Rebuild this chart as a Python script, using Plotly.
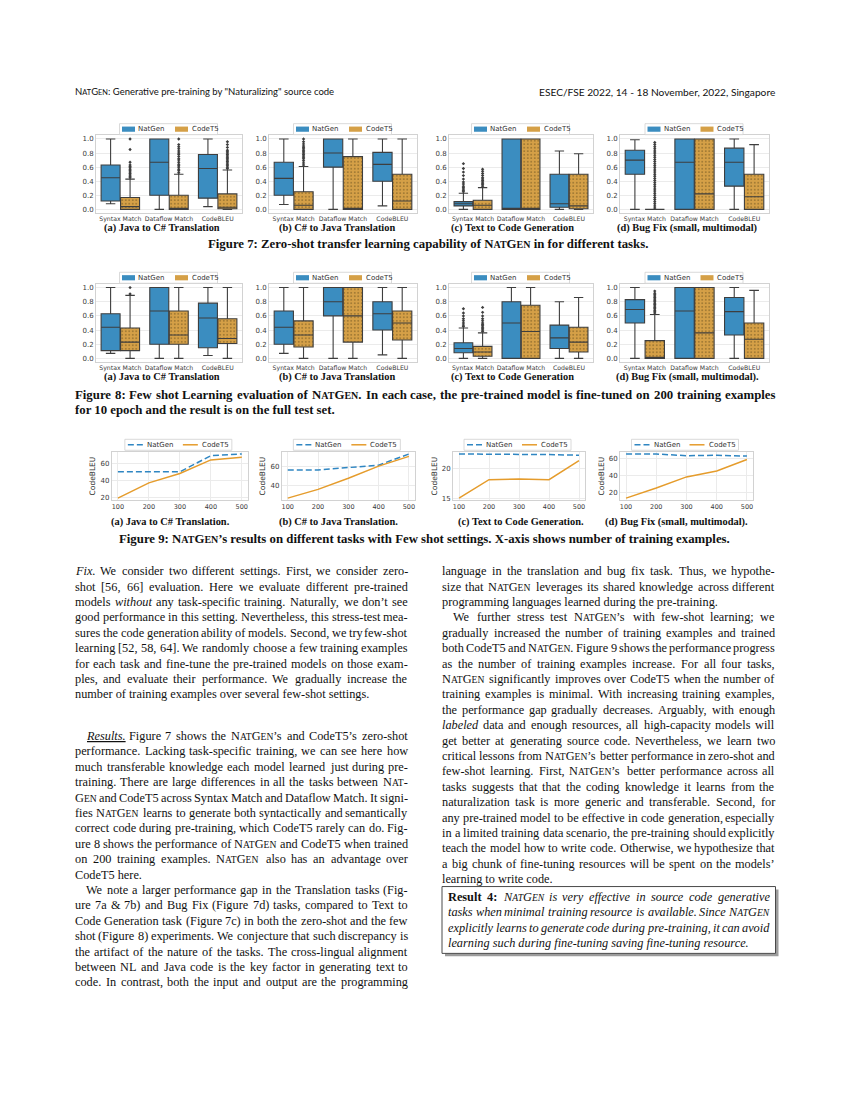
import re
import plotly.graph_objects as go

# ---------------- data ----------------
METRICS = ["Syntax Match", "Dataflow Match", "CodeBLEU"]
METRIC_POS = [0, 1, 2]
BOX_TICKS = [0.0, 0.2, 0.4, 0.6, 0.8, 1.0]

# Box statistics per metric: [lower whisker, q1, median, q3, upper whisker]
# Figure 7: zero-shot
zs_java_cs_natgen = [[0.08, 0.12, 0.45, 0.63, 1.00], [0.00, 0.20, 0.67, 1.00, 1.00], [0.04, 0.16, 0.58, 0.78, 1.00]]
zs_java_cs_codet5 = [[0.00, 0.00, 0.04, 0.17, 0.43], [0.00, 0.00, 0.00, 0.20, 0.50], [0.00, 0.01, 0.03, 0.22, 0.56]]
zs_java_cs_natgen_out = [[], [], []]
zs_java_cs_codet5_out = [[0.45, 0.47, 0.49, 0.51, 0.53, 0.55, 0.57, 0.59, 0.61, 0.63, 0.67, 0.85, 1.00],
                         [0.52, 0.55, 0.57, 0.60, 0.62, 0.64, 0.67, 0.70, 0.72, 0.75, 0.78, 0.80, 0.83, 0.86, 0.89, 0.92, 1.00],
                         [0.58, 0.60, 0.62, 0.64, 0.66, 0.68, 0.70, 0.72, 0.74, 0.76, 0.78, 0.80, 0.82, 0.84, 0.88, 0.92, 0.96]]

zs_cs_java_natgen = [[0.07, 0.20, 0.44, 0.67, 1.00], [0.00, 0.60, 0.80, 1.00, 1.00], [0.05, 0.40, 0.64, 0.81, 1.00]]
zs_cs_java_codet5 = [[0.00, 0.00, 0.06, 0.25, 0.61], [0.00, 0.00, 0.00, 0.75, 1.00], [0.00, 0.00, 0.12, 0.50, 1.00]]
zs_cs_java_natgen_out = [[], [], []]
zs_cs_java_codet5_out = [[0.63, 0.66, 0.69, 0.72, 0.74, 0.76, 0.78, 0.80, 0.82, 0.84, 0.86, 0.88, 0.90, 0.93, 0.96, 1.00], [], []]

zs_text_code_natgen = [[0.00, 0.05, 0.08, 0.11, 0.23], [0.00, 0.00, 0.00, 1.00, 1.00], [0.00, 0.03, 0.08, 0.50, 0.83]]
zs_text_code_codet5 = [[0.00, 0.00, 0.06, 0.13, 0.31], [0.00, 0.00, 0.00, 1.00, 1.00], [0.00, 0.01, 0.05, 0.50, 0.79]]
zs_text_code_natgen_out = [[0.25, 0.27, 0.29, 0.31, 0.33, 0.36, 0.39, 0.43, 0.48, 0.53, 0.58, 0.65], [], []]
zs_text_code_codet5_out = [[0.33, 0.35, 0.37, 0.39, 0.41, 0.43, 0.45, 0.48, 0.51, 0.54, 0.57], [], []]

zs_bugfix_natgen = [[0.00, 0.50, 0.70, 0.84, 0.99], [0.00, 0.00, 0.67, 1.00, 1.00], [0.00, 0.33, 0.67, 0.87, 1.00]]
zs_bugfix_codet5 = [[0.00, 0.00, 0.00, 0.00, 0.00], [0.00, 0.00, 0.22, 1.00, 1.00], [0.00, 0.00, 0.18, 0.50, 0.92]]
zs_bugfix_natgen_out = [[], [], []]
zs_bugfix_codet5_out = [[0.02, 0.05, 0.08, 0.11, 0.14, 0.17, 0.20, 0.23, 0.26, 0.29, 0.32, 0.35, 0.38, 0.41, 0.44,
                         0.47, 0.50, 0.53, 0.56, 0.59, 0.62, 0.65, 0.68, 0.71, 0.74, 0.77, 0.80, 0.83, 0.86, 0.89,
                         0.92, 0.95], [], []]

# Figure 8: few-shot (200 examples)
fs_java_cs_natgen = [[0.07, 0.11, 0.44, 0.63, 1.00], [0.00, 0.20, 0.67, 1.00, 1.00], [0.04, 0.15, 0.57, 0.78, 1.00]]
fs_java_cs_codet5 = [[0.00, 0.11, 0.23, 0.43, 0.89], [0.00, 0.20, 0.33, 0.67, 1.00], [0.00, 0.21, 0.28, 0.56, 1.00]]
fs_java_cs_natgen_out = [[], [], []]
fs_java_cs_codet5_out = [[0.91, 1.00], [], []]

fs_cs_java_natgen = [[0.07, 0.20, 0.44, 0.67, 1.00], [0.00, 0.60, 0.80, 1.00, 1.00], [0.05, 0.40, 0.63, 0.80, 1.00]]
fs_cs_java_codet5 = [[0.00, 0.16, 0.33, 0.53, 1.00], [0.00, 0.23, 0.60, 1.00, 1.00], [0.00, 0.26, 0.50, 0.67, 1.00]]
fs_cs_java_natgen_out = [[], [], []]
fs_cs_java_codet5_out = [[], [], []]

fs_text_code_natgen = [[0.00, 0.08, 0.14, 0.22, 0.43], [0.00, 0.00, 0.50, 0.80, 1.00], [0.00, 0.14, 0.29, 0.47, 0.80]]
fs_text_code_codet5 = [[0.00, 0.03, 0.09, 0.17, 0.36], [0.00, 0.00, 0.38, 0.75, 1.00], [0.00, 0.09, 0.23, 0.44, 0.86]]
fs_text_code_natgen_out = [[0.45, 0.47, 0.50, 0.53, 0.56, 0.60, 0.64, 0.70], [], []]
fs_text_code_codet5_out = [[0.38, 0.40, 0.42, 0.44, 0.46, 0.48, 0.50, 0.53, 0.56, 0.60, 0.65, 0.72], [], []]

fs_bugfix_natgen = [[0.00, 0.50, 0.69, 0.83, 1.00], [0.00, 0.00, 0.67, 1.00, 1.00], [0.00, 0.33, 0.66, 0.86, 1.00]]
fs_bugfix_codet5 = [[0.00, 0.00, 0.00, 0.25, 0.62], [0.00, 0.00, 0.36, 1.00, 1.00], [0.00, 0.00, 0.27, 0.50, 0.96]]
fs_bugfix_natgen_out = [[], [], []]
fs_bugfix_codet5_out = [[0.64, 0.66, 0.68, 0.70, 0.72, 0.74, 0.76, 0.78, 0.80, 0.82, 0.84, 0.86, 0.88, 0.90, 0.92, 0.95], [], []]

# Figure 9: CodeBLEU vs number of training examples
TRAIN_SIZES = [100, 200, 300, 400, 500]
TRAIN_TICKS = [100, 200, 300, 400, 500]
curve_java_cs_natgen = [50, 50, 50, 69, 71]
curve_java_cs_codet5 = [19, 37, 48, 64, 67]
curve_cs_java_natgen = [56.5, 56.5, 59, 61.5, 73]
curve_cs_java_codet5 = [27.5, 36.5, 48, 60.5, 70.5]
curve_text_code_natgen = [22.3, 22.3, 22.3, 22.2, 22.1]
curve_text_code_codet5 = [15.1, 18.1, 18.2, 18.1, 21.2]
curve_bugfix_natgen = [65, 65, 63, 63.5, 62.5]
curve_bugfix_codet5 = [13, 25, 38, 45, 58.5]
curve_yticks = [[20, 40, 60], [40, 60], [15, 20], [20, 40, 60]]

# ---------------- page geometry / styling ----------------
OFF = 8                 # default body margin of the html page
FW, FH = 850 - 2 * OFF, 1100 - 2 * OFF

NATGEN_FILL = "#3b8dc0"
CODET5_FILL = "#d5a047"
CODET5_DOT = "#94702f"
EDGE = "#3e3e3e"
NATGEN_LINE = "#2f86c2"
CODET5_LINE = "#e59c2c"
FRAME = "#d2d2d2"
GRID = "#ebebeb"
TICK_FONT = dict(family="DejaVu Sans", size=7, color="#3a3a3a")
CAT_FONT = dict(family="DejaVu Sans", size=6.2, color="#3a3a3a")
SERIF = "Liberation Serif"
SANS_HDR = "Lato"

BOX_X = [(96, 242), (269, 417), (449, 593), (620, 769)]
FIG7_Y = (135.8, 213.5)
FIG8_Y = (284.8, 362.9)
LINE_X = [(111.7, 248), (281.7, 415), (453, 585), (620, 753)]
FIG9_Y = (453, 501.7)


def px(x):
    return (x - OFF) / FW


def py(y):
    return 1 - (y - OFF) / FH


fig = go.Figure()
layout = {}
annotations = []
shapes = []


def add_box_panel(i, natgen, codet5, natgen_out, codet5_out, xdom, ydom):
    s = "" if i == 1 else str(i)
    for stats, outs, offset, is_t5 in ((natgen, natgen_out, -0.2, False), (codet5, codet5_out, 0.2, True)):
        xs = [p + offset for p in METRIC_POS]
        low = [r[0] for r in stats]
        q1 = [r[1] for r in stats]
        med = [r[2] for r in stats]
        q3 = [r[3] for r in stats]
        high = [r[4] for r in stats]
        if is_t5:
            marker = dict(color=CODET5_FILL, line=dict(width=0),
                          pattern=dict(shape=".", fgcolor=CODET5_DOT, bgcolor=CODET5_FILL,
                                       size=3.5, solidity=0.2, fillmode="replace"))
        else:
            marker = dict(color=NATGEN_FILL, line=dict(width=0))
        fig.add_trace(go.Bar(x=xs, y=[b - a for a, b in zip(q1, q3)], base=q1, width=0.39,
                             marker=marker, xaxis="x" + s, yaxis="y" + s,
                             showlegend=False, hoverinfo="skip"))
        fig.add_trace(go.Box(x=xs, q1=q1, median=med, q3=q3, lowerfence=low, upperfence=high,
                             width=0.39, orientation="v", fillcolor="rgba(0,0,0,0)",
                             line=dict(color=EDGE, width=1.1), whiskerwidth=0.5,
                             boxpoints=False, xaxis="x" + s, yaxis="y" + s,
                             showlegend=False, hoverinfo="skip"))
        ox, oy = [], []
        for xpos, vals in zip(xs, outs):
            ox += [xpos] * len(vals)
            oy += vals
        if ox:
            fig.add_trace(go.Scatter(x=ox, y=oy, mode="markers",
                                     marker=dict(symbol="diamond", size=2.6, color=EDGE),
                                     xaxis="x" + s, yaxis="y" + s, showlegend=False, hoverinfo="skip"))
    layout["xaxis" + s] = dict(domain=[px(xdom[0]), px(xdom[1])], anchor="y" + s, range=[-0.5, 2.5],
                               tickvals=METRIC_POS, ticktext=METRICS, tickangle=0, ticks="",
                               tickfont=CAT_FONT, showgrid=False, zeroline=False,
                               showline=True, mirror=True, linecolor=FRAME, linewidth=0.8)
    layout["yaxis" + s] = dict(domain=[py(ydom[1]), py(ydom[0])], anchor="x" + s, range=[-0.05, 1.05],
                               tickvals=BOX_TICKS, tickformat=".1f", ticks="", tickfont=TICK_FONT,
                               showgrid=True, gridcolor=GRID, gridwidth=0.8, zeroline=False,
                               showline=True, mirror=True, linecolor=FRAME, linewidth=0.8)
    c = (xdom[0] + xdom[1]) / 2
    top = ydom[0] - 11.8
    bot = ydom[0] - 0.8
    mid = (top + bot) / 2
    shapes.append(dict(type="rect", xref="paper", yref="paper", x0=px(c - 49.5), x1=px(c + 48.5),
                       y0=py(bot), y1=py(top), line=dict(color="#d0d0d0", width=0.8), fillcolor="white"))
    shapes.append(dict(type="rect", xref="paper", yref="paper", x0=px(c - 47), x1=px(c - 34),
                       y0=py(mid + 2.6), y1=py(mid - 2.6), line=dict(width=0), fillcolor=NATGEN_FILL))
    shapes.append(dict(type="rect", xref="paper", yref="paper", x0=px(c + 6), x1=px(c + 19),
                       y0=py(mid + 2.6), y1=py(mid - 2.6), line=dict(width=0), fillcolor=CODET5_FILL))
    for label, lx in (("NatGen", c - 31), ("CodeT5", c + 22.5)):
        annotations.append(dict(text=label, x=px(lx), y=py(mid), xref="paper", yref="paper",
                                xanchor="left", yanchor="middle", showarrow=False, borderwidth=0,
                                font=dict(family="DejaVu Sans", size=7, color="#333333"), borderpad=0))


def add_line_panel(i, natgen, codet5, yticks, xdom, ydom):
    s = "" if i == 1 else str(i)
    fig.add_trace(go.Scatter(x=TRAIN_SIZES, y=natgen, mode="lines",
                             line=dict(color=NATGEN_LINE, width=1.5, dash="6px,3px"),
                             xaxis="x" + s, yaxis="y" + s, showlegend=False, hoverinfo="skip"))
    fig.add_trace(go.Scatter(x=TRAIN_SIZES, y=codet5, mode="lines",
                             line=dict(color=CODET5_LINE, width=1.5),
                             xaxis="x" + s, yaxis="y" + s, showlegend=False, hoverinfo="skip"))
    lo = min(natgen + codet5)
    hi = max(natgen + codet5)
    pad = 0.05 * (hi - lo)
    layout["xaxis" + s] = dict(domain=[px(xdom[0]), px(xdom[1])], anchor="y" + s, range=[80, 520],
                               tickvals=TRAIN_TICKS, ticks="",
                               tickfont=dict(family="DejaVu Sans", size=6.5, color="#3a3a3a"),
                               showgrid=True, gridcolor=GRID, gridwidth=0.8, zeroline=False,
                               showline=True, mirror=True, linecolor=FRAME, linewidth=0.8)
    layout["yaxis" + s] = dict(domain=[py(ydom[1]), py(ydom[0])], anchor="x" + s, range=[lo - pad, hi + pad],
                               tickvals=yticks, ticks="", tickfont=TICK_FONT,
                               title=dict(text="CodeBLEU", font=dict(family="DejaVu Sans", size=7.5, color="#333333"),
                                          standoff=3),
                               showgrid=True, gridcolor=GRID, gridwidth=0.8, zeroline=False,
                               showline=True, mirror=True, linecolor=FRAME, linewidth=0.8)
    c = (xdom[0] + xdom[1]) / 2 - 2
    top = ydom[0] - 12.5
    bot = ydom[0] - 1.5
    mid = (top + bot) / 2
    shapes.append(dict(type="rect", xref="paper", yref="paper", x0=px(c - 53), x1=px(c + 54),
                       y0=py(bot), y1=py(top), line=dict(color="#d0d0d0", width=0.8), fillcolor="white"))
    shapes.append(dict(type="line", xref="paper", yref="paper", x0=px(c - 50), x1=px(c - 35),
                       y0=py(mid), y1=py(mid), line=dict(color=NATGEN_LINE, width=1.5, dash="6px,3px")))
    shapes.append(dict(type="line", xref="paper", yref="paper", x0=px(c + 5), x1=px(c + 20),
                       y0=py(mid), y1=py(mid), line=dict(color=CODET5_LINE, width=1.5)))
    for label, lx in (("NatGen", c - 31), ("CodeT5", c + 24)):
        annotations.append(dict(text=label, x=px(lx), y=py(mid), xref="paper", yref="paper",
                                xanchor="left", yanchor="middle", showarrow=False, borderwidth=0,
                                font=dict(family="DejaVu Sans", size=7, color="#333333"), borderpad=0))


fig7 = [(zs_java_cs_natgen, zs_java_cs_codet5, zs_java_cs_natgen_out, zs_java_cs_codet5_out),
        (zs_cs_java_natgen, zs_cs_java_codet5, zs_cs_java_natgen_out, zs_cs_java_codet5_out),
        (zs_text_code_natgen, zs_text_code_codet5, zs_text_code_natgen_out, zs_text_code_codet5_out),
        (zs_bugfix_natgen, zs_bugfix_codet5, zs_bugfix_natgen_out, zs_bugfix_codet5_out)]
fig8 = [(fs_java_cs_natgen, fs_java_cs_codet5, fs_java_cs_natgen_out, fs_java_cs_codet5_out),
        (fs_cs_java_natgen, fs_cs_java_codet5, fs_cs_java_natgen_out, fs_cs_java_codet5_out),
        (fs_text_code_natgen, fs_text_code_codet5, fs_text_code_natgen_out, fs_text_code_codet5_out),
        (fs_bugfix_natgen, fs_bugfix_codet5, fs_bugfix_natgen_out, fs_bugfix_codet5_out)]
fig9 = [(curve_java_cs_natgen, curve_java_cs_codet5), (curve_cs_java_natgen, curve_cs_java_codet5),
        (curve_text_code_natgen, curve_text_code_codet5), (curve_bugfix_natgen, curve_bugfix_codet5)]

idx = 1
for k, (a, b, ao, bo) in enumerate(fig7):
    add_box_panel(idx, a, b, ao, bo, BOX_X[k], FIG7_Y)
    idx += 1
for k, (a, b, ao, bo) in enumerate(fig8):
    add_box_panel(idx, a, b, ao, bo, BOX_X[k], FIG8_Y)
    idx += 1
for k, (a, b) in enumerate(fig9):
    add_line_panel(idx, a, b, curve_yticks[k], LINE_X[k], FIG9_Y)
    idx += 1

# ---------------- page text ----------------
# Times-New-Roman-compatible advance widths (1/1000 em) used to justify the text lines
_LOW = "abcdefghijklmnopqrstuvwxyz"
_UP = "ABCDEFGHIJKLMNOPQRSTUVWXYZ"
_PUNCT = {" ": 250, ".": 250, ",": 250, "-": 333, "(": 333, ")": 333, "[": 333, "]": 333,
          "&": 778, "'": 180, "’": 333, '"': 408, "#": 500, "?": 444, "!": 333, "/": 278}
REG = dict(zip(_LOW, [444, 500, 444, 500, 444, 333, 500, 500, 278, 278, 500, 278, 778, 500, 500, 500, 500,
                      333, 389, 278, 500, 500, 722, 500, 500, 444]))
REG.update(zip(_UP, [722, 667, 667, 722, 611, 556, 722, 722, 333, 389, 722, 611, 889, 722, 722, 556, 722,
                     667, 556, 611, 722, 722, 944, 722, 722, 611]))
REG.update(_PUNCT)
REG.update({":": 278, ";": 278})
ITAL = dict(zip(_LOW, [500, 500, 444, 500, 444, 278, 500, 500, 278, 278, 444, 278, 722, 500, 500, 500, 500,
                       389, 389, 278, 500, 444, 667, 444, 444, 389]))
ITAL.update(zip(_UP, [611, 611, 667, 722, 611, 611, 722, 722, 333, 444, 667, 556, 833, 667, 722, 611, 722,
                      611, 500, 556, 722, 611, 833, 611, 556, 556]))
ITAL.update(_PUNCT)
ITAL.update({":": 333, ";": 333})
BOLD = dict(zip(_LOW, [500, 556, 444, 556, 444, 333, 500, 556, 278, 333, 556, 278, 833, 556, 500, 556, 556,
                       444, 389, 333, 556, 500, 722, 500, 500, 444]))
BOLD.update(zip(_UP, [722, 667, 722, 722, 667, 611, 778, 778, 389, 500, 778, 667, 944, 722, 778, 611, 778,
                      722, 556, 667, 722, 722, 1000, 722, 722, 667]))
BOLD.update(_PUNCT)
BOLD.update({":": 333, ";": 333})
for _t in (REG, ITAL, BOLD):
    _t.update({d: 500 for d in "0123456789"})

SC_RATIO = 0.78
SPECIAL = {"@NG": ("NG", "ATEN"), "@NAT": ("N", "AT"), "@GEN": ("G", "EN")}


def sc_markup(size):
    f = '<span style="font-size:%.1fpx">' % (size * SC_RATIO)
    return "N" + f + "AT</span>G" + f + "EN</span>"


def markup(tok, size):
    f = '<span style="font-size:%.1fpx">' % (size * SC_RATIO)
    tok = tok.replace("@NG", sc_markup(size))
    tok = tok.replace("@NAT", "N" + f + "AT</span>")
    tok = tok.replace("@GEN", "G" + f + "EN</span>")
    tok = tok.replace("@RES", '<span style="text-decoration:underline"><i>Results.</i></span>')
    return tok


def token_width(tok, size, table):
    w = 0.0
    if "@RES" in tok:
        tok = tok.replace("@RES", "")
        w += sum(ITAL.get(ch, 500) for ch in "Results.") * size / 1000
    for key in ("@NG", "@NAT", "@GEN"):
        full, small = SPECIAL[key]
        while key in tok:
            tok = tok.replace(key, "", 1)
            w += sum(table[ch] for ch in full) * size / 1000
            w += sum(table[ch] for ch in small) * size * SC_RATIO / 1000
    plain = re.sub(r"<[^>]+>", "", tok).replace("&amp;", "&")
    return w + sum(table.get(ch, 500) for ch in plain) * size / 1000


def text(s, x, y, size, anchor="left", family=SERIF, color="#111111"):
    annotations.append(dict(text=s, x=px(x), y=py(y), xref="paper", yref="paper",
                            xanchor=anchor, yanchor="middle", showarrow=False, borderpad=0, borderwidth=0,
                            font=dict(family=family, size=size, color=color)))


def line(src, x0, x1, y, size, justify=True, style=""):
    toks = src.split(" ")
    wrap_open = "".join("<%s>" % c for c in style)
    wrap_close = "".join("</%s>" % c for c in reversed(style))
    if not justify or len(toks) == 1:
        text(wrap_open + " ".join(markup(t, size) for t in toks) + wrap_close, x0, y, size)
        return
    widths = []
    for t in toks:
        if "b" in style or "<b>" in t:
            table = BOLD
        elif "i" in style or "<i>" in t:
            table = ITAL
        else:
            table = REG
        widths.append(token_width(t, size, table))
    gap = (x1 - x0 - sum(widths)) / (len(toks) - 1)
    x = x0
    for k, (t, w) in enumerate(zip(toks, widths)):
        m = wrap_open + markup(t, size) + wrap_close
        if k == len(toks) - 1:
            text(m, x1, y, size, anchor="right")
        else:
            text(m, x, y, size)
        x += w + gap


# running header
text(sc_markup(9.5) + ': Generative pre-training by "Naturalizing" source code', 75, 92, 9.5, family=SANS_HDR)
text("ESEC/FSE 2022, 14 - 18 November, 2022, Singapore", 775, 92, 10.2, anchor="right", family=SANS_HDR)

# sub-captions
SUB = 10.4
SUB_CX = [162, 337, 512, 687]
SUB9_CX = [170, 338, 521, 676]
sub7 = ["(a) Java to C# Translation", "(b) C# to Java Translation", "(c) Text to Code Generation",
        "(d) Bug Fix (small, multimodal)"]
sub8 = ["(a) Java to C# Translation", "(b) C# to Java Translation", "(c) Text to Code Generation",
        "(d) Bug Fix (small, multimodal)."]
sub9 = ["(a) Java to C# Translation.", "(b) C# to Java Translation.", "(c) Text to Code Generation.",
        "(d) Bug Fix (small, multimodal)."]
for cx, s in zip(SUB_CX, sub7):
    text("<b>%s</b>" % s, cx, 229, SUB, anchor="center")
for cx, s in zip(SUB_CX, sub8):
    text("<b>%s</b>" % s, cx, 378, SUB, anchor="center")
for cx, s in zip(SUB9_CX, sub9):
    text("<b>%s</b>" % s, cx, 523, SUB, anchor="center")

# figure captions
CAP = 12.8
text("<b>Figure 7: Zero-shot transfer learning capability of %s in for different tasks.</b>" % sc_markup(CAP),
     428, 245, CAP, anchor="center")
line("Figure 8: Few shot Learning evaluation of @NG. In each case, the pre-trained model is fine-tuned on 200 training examples",
     75, 775, 396, CAP, style="b")
line("for 10 epoch and the result is on the full test set.", 75, 775, 411.5, CAP, justify=False, style="b")
text("<b>Figure 9: %s’s results on different tasks with Few shot settings. X-axis shows number of training examples.</b>"
     % sc_markup(CAP), 424, 540, CAP, anchor="center")

# body text
BODY = 12.3
LH = 15.45
L0, L1 = 75, 408
R0, R1 = 442, 775
IND = 11

left_p1 = [
    "<i>Fix.</i> We consider two different settings. First, we consider zero-",
    "shot [56, 66] evaluation. Here we evaluate different pre-trained",
    "models <i>without</i> any task-specific training. Naturally, we don’t see",
    "good performance in this setting. Nevertheless, this stress-test mea-",
    "sures the code generation ability of models. Second, we try few-shot",
    "learning [52, 58, 64]. We randomly choose a few training examples",
    "for each task and fine-tune the pre-trained models on those exam-",
    "ples, and evaluate their performance. We gradually increase the",
    "number of training examples over several few-shot settings.",
]
left_p2 = [
    "@RES Figure 7 shows the @NG’s and CodeT5’s zero-shot",
    "performance. Lacking task-specific training, we can see here how",
    "much transferable knowledge each model learned just during pre-",
    "training. There are large differences in all the tasks between @NAT-",
    "@GEN and CodeT5 across Syntax Match and Dataflow Match. It signi-",
    "fies @NG learns to generate both syntactically and semantically",
    "correct code during pre-training, which CodeT5 rarely can do. Fig-",
    "ure 8 shows the performance of @NG and CodeT5 when trained",
    "on 200 training examples. @NG also has an advantage over",
    "CodeT5 here.",
    "We note a larger performance gap in the Translation tasks (Fig-",
    "ure 7a &amp; 7b) and Bug Fix (Figure 7d) tasks, compared to Text to",
    "Code Generation task (Figure 7c) in both the zero-shot and the few",
    "shot (Figure 8) experiments. We conjecture that such discrepancy is",
    "the artifact of the nature of the tasks. The cross-lingual alignment",
    "between NL and Java code is the key factor in generating text to",
    "code. In contrast, both the input and output are the programming",
]
left_p2_indent = {0, 10}
left_p2_last = {9}

right_lines = [
    "language in the translation and bug fix task. Thus, we hypothe-",
    "size that @NG leverages its shared knowledge across different",
    "programming languages learned during the pre-training.",
    "We further stress test @NG’s with few-shot learning; we",
    "gradually increased the number of training examples and trained",
    "both CodeT5 and @NG. Figure 9 shows the performance progress",
    "as the number of training examples increase. For all four tasks,",
    "@NG significantly improves over CodeT5 when the number of",
    "training examples is minimal. With increasing training examples,",
    "the performance gap gradually decreases. Arguably, with enough",
    "<i>labeled</i> data and enough resources, all high-capacity models will",
    "get better at generating source code. Nevertheless, we learn two",
    "critical lessons from @NG’s better performance in zero-shot and",
    "few-shot learning. First, @NG’s better performance across all",
    "tasks suggests that that the coding knowledge it learns from the",
    "naturalization task is more generic and transferable. Second, for",
    "any pre-trained model to be effective in code generation, especially",
    "in a limited training data scenario, the pre-training should explicitly",
    "teach the model how to write code. Otherwise, we hypothesize that",
    "a big chunk of fine-tuning resources will be spent on the models’",
    "learning to write code.",
]
right_indent = {3}
right_last = {2, 20}

for k, s in enumerate(left_p1):
    line(s, L0, L1, 572.7 + k * LH, BODY, justify=(k != len(left_p1) - 1))
for k, s in enumerate(left_p2):
    line(s, L0 + (IND if k in left_p2_indent else 0), L1, 738 + k * LH, BODY, justify=(k not in left_p2_last))
for k, s in enumerate(right_lines):
    line(s, R0 + (IND if k in right_indent else 0), R1, 572.7 + k * LH, BODY, justify=(k not in right_last))

# Result box
shapes.append(dict(type="rect", xref="paper", yref="paper", x0=px(445), x1=px(778.5), y0=py(959), y1=py(892),
                   line=dict(width=0), fillcolor="#9c9c9c"))
shapes.append(dict(type="rect", xref="paper", yref="paper", x0=px(442), x1=px(775.5), y0=py(956), y1=py(889),
                   line=dict(color="#4a4a4a", width=1), fillcolor="white"))
result_lines = [
    "<b>Result</b> <b>4:</b> <i>@NG</i> <i>is</i> <i>very</i> <i>effective</i> <i>in</i> <i>source</i> <i>code</i> <i>generative</i>",
    "tasks when minimal training resource is available. Since @NG",
    "explicitly learns to generate code during pre-training, it can avoid",
    "learning such during fine-tuning saving fine-tuning resource.",
]
line(result_lines[0], 448, 769.5, 899.5, BODY)
line(result_lines[1], 448, 769.5, 899.5 + LH, BODY, style="i")
line(result_lines[2], 448, 769.5, 899.5 + 2 * LH, BODY, style="i")
line(result_lines[3], 448, 769.5, 899.5 + 3 * LH, BODY, justify=False, style="i")

layout.update(dict(width=FW, height=FH, margin=dict(l=0, r=0, t=0, b=0), paper_bgcolor="white",
                   plot_bgcolor="white", showlegend=False, barmode="overlay", boxmode="overlay",
                   annotations=annotations, shapes=shapes))
fig.update_layout(**layout)
fig.write_html("out.html")
